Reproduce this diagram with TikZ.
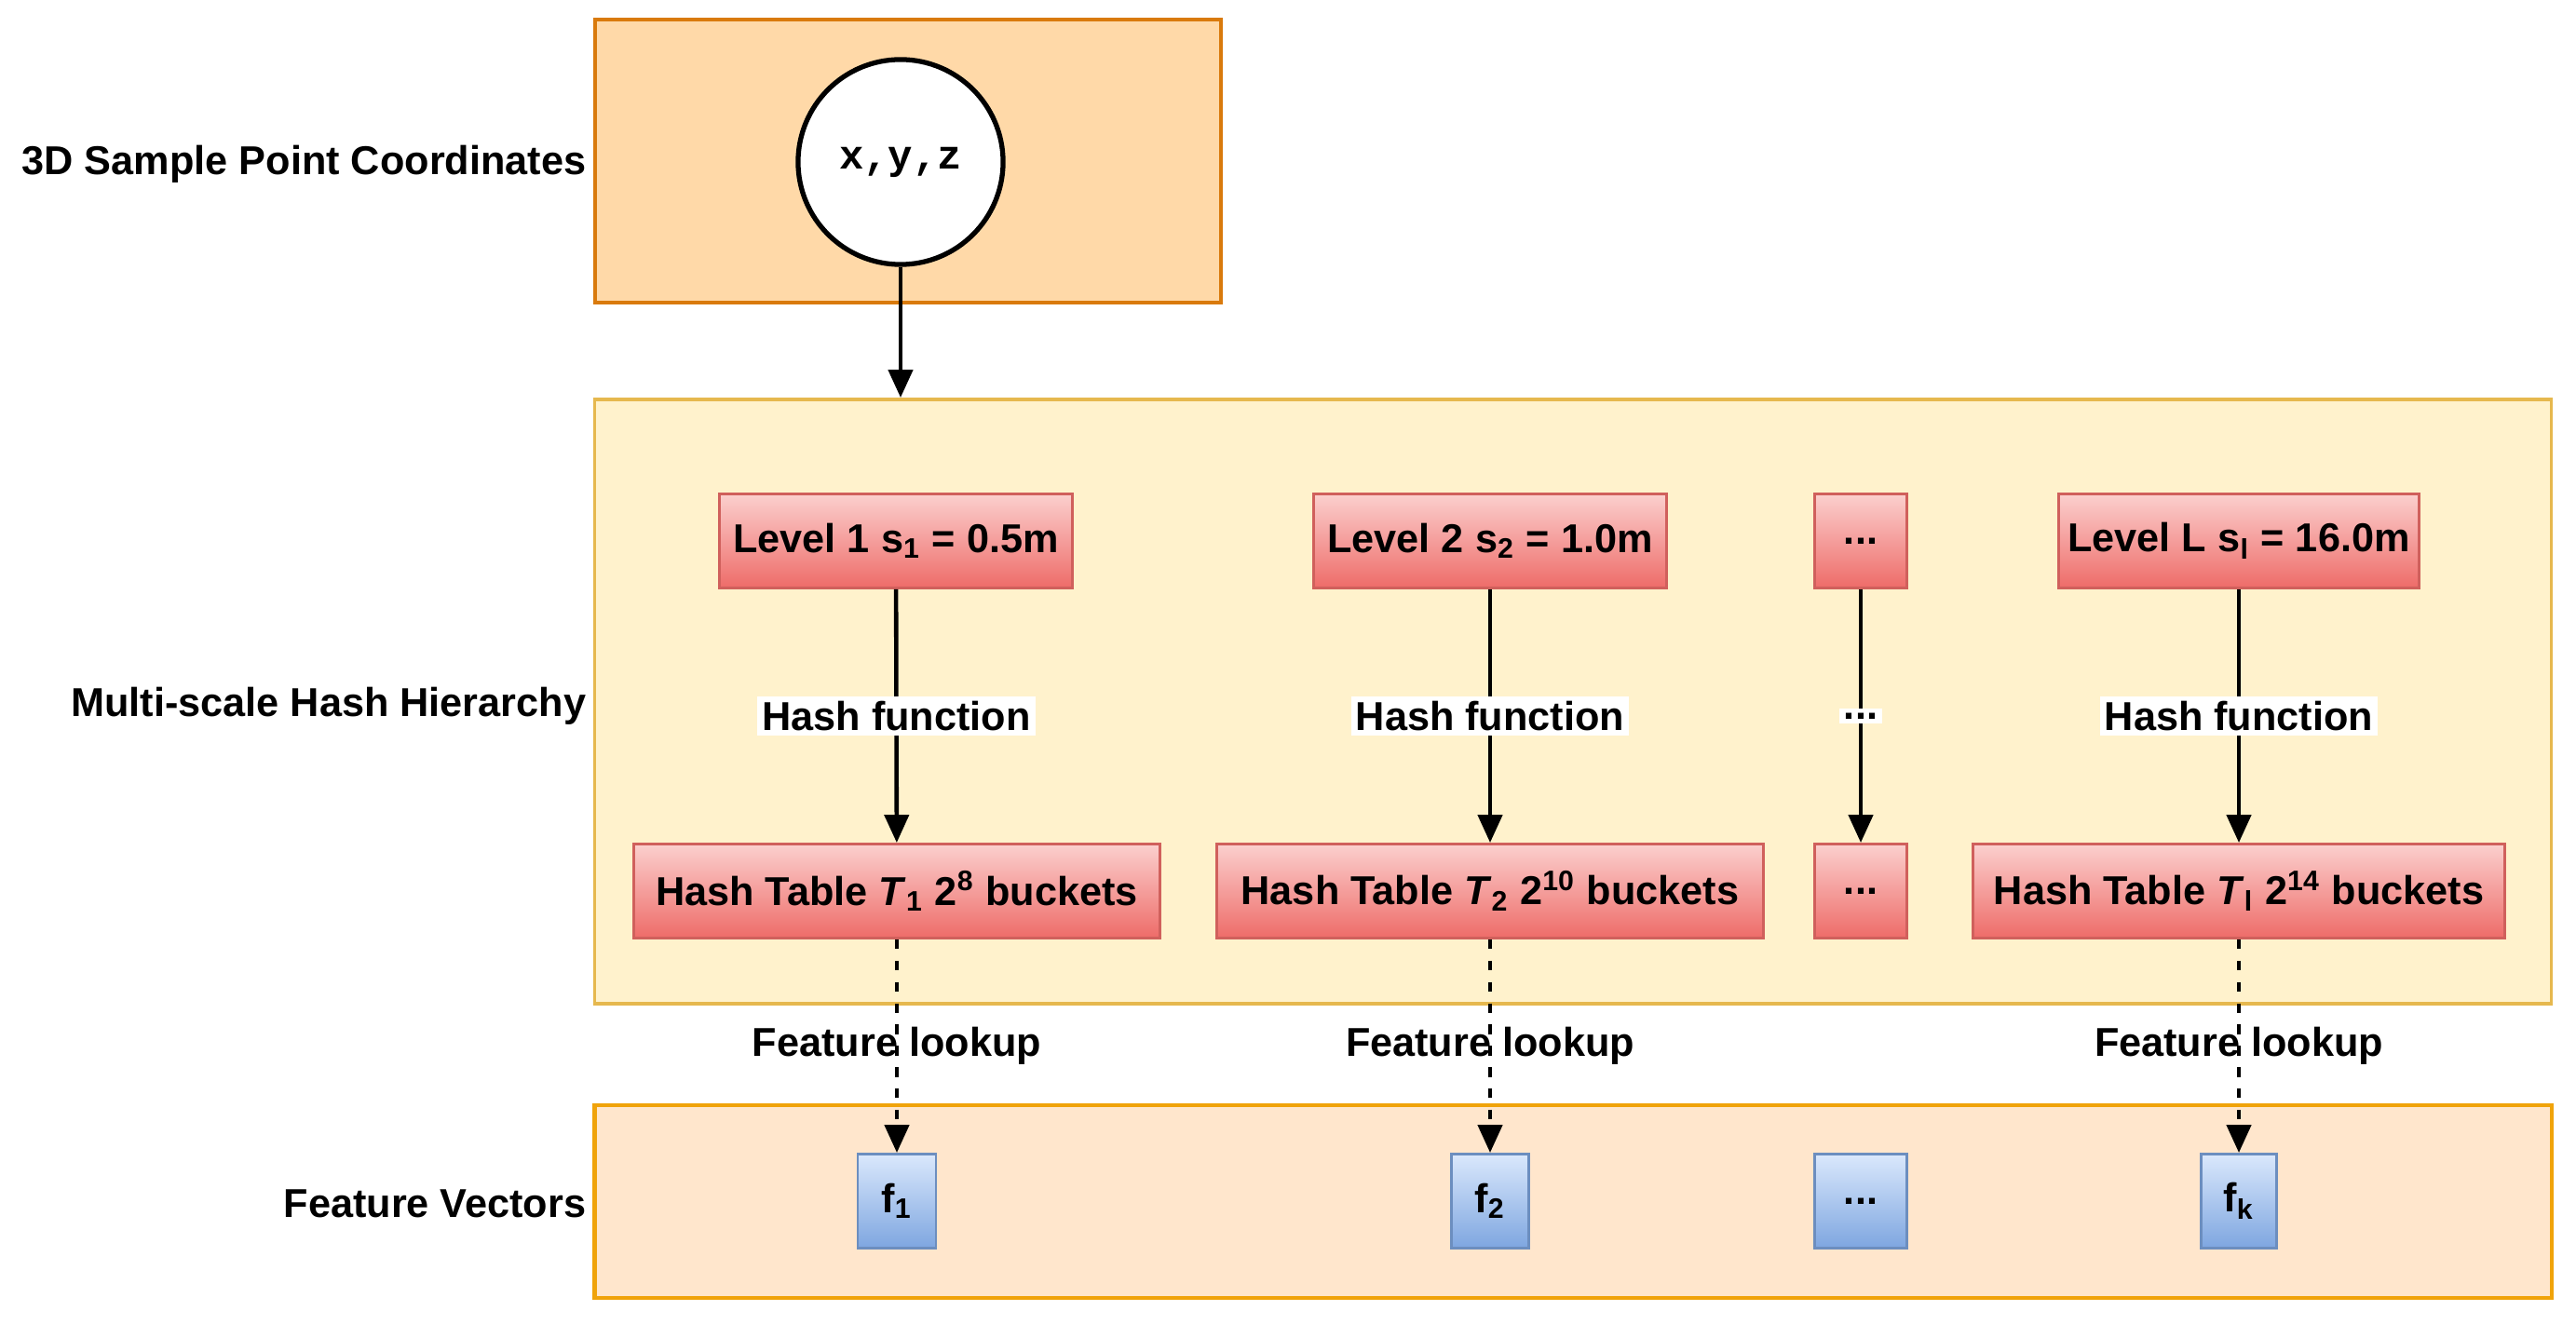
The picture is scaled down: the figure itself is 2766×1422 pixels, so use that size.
\documentclass[tikz,border=0pt]{standalone}
\usepackage{fontspec}
\setmainfont{Liberation Sans}
\setmonofont{Liberation Mono}
\usetikzlibrary{arrows.meta}
\definecolor{HashOrange}{HTML}{FFD9A8}
\definecolor{HashOrangeLine}{HTML}{D97A0C}
\definecolor{HashYellow}{HTML}{FFF2CC}
\definecolor{HashYellowLine}{HTML}{E6B84E}
\definecolor{HashPeach}{HTML}{FFE6CC}
\definecolor{HashPeachLine}{HTML}{F0A30A}
\definecolor{HashRedTop}{HTML}{FBD0CE}
\definecolor{HashRedBottom}{HTML}{EE6B68}
\definecolor{HashRedLine}{HTML}{D0605C}
\definecolor{HashBlueTop}{HTML}{DAE8FC}
\definecolor{HashBlueBottom}{HTML}{7EA6E0}
\definecolor{HashBlueLine}{HTML}{6C8EBF}
\tikzset{
  big/.style={font=\fontsize{12.3}{14}\selectfont\bfseries},
  stage/.style={
    draw,
    line width=1pt,
    inner sep=0pt
  },
  inputstage/.style={stage,fill=HashOrange,draw=HashOrangeLine,line width=1.2pt},
  hashstage/.style={stage,fill=HashYellow,draw=HashYellowLine},
  featstage/.style={stage,fill=HashPeach,draw=HashPeachLine,line width=1.2pt},
  level/.style={
    big,
    draw=HashRedLine,
    line width=.8pt,
    top color=HashRedTop,
    bottom color=HashRedBottom,
    minimum height=1.01cm,
    inner sep=0pt
  },
  feat/.style={
    big,
    draw=HashBlueLine,
    line width=.8pt,
    top color=HashBlueTop,
    bottom color=HashBlueBottom,
    minimum height=1.01cm,
    inner sep=0pt
  },
  rowlabel/.style={big,anchor=east,inner sep=0pt},
  hashlbl/.style={big,fill=white,inner sep=1.5pt},
  lookuplbl/.style={big,inner sep=1pt},
  arrow/.style={-{Triangle[length=3mm,width=2.6mm]},line width=1.3pt},
  lookup/.style={arrow,dash pattern=on 3pt off 3.5pt}
}

\begin{document}
\begin{tikzpicture}[x=0.01cm,y=-0.01cm]
  \useasboundingbox (0,0) rectangle (2766,1422);
  % stages
  \node[inputstage,minimum width=6.72cm,minimum height=3.04cm] (input) at (975,173) {};
  \node[hashstage,minimum width=21cm,minimum height=6.49cm] (hier) at (1689,753.5) {};
  \node[featstage,minimum width=21cm,minimum height=2.07cm] (vectors) at (1689,1290.5) {};
  \node[rowlabel] at (630,176) {3D Sample Point Coordinates};
  \node[rowlabel] at (630,758) {Multi-scale Hash Hierarchy};
  \node[rowlabel] at (630,1293) {Feature Vectors};
  % input point
  \node[circle,draw,line width=1.5pt,fill=white,minimum size=2.2cm,
    font=\fontsize{12.5}{14}\selectfont\ttfamily\bfseries] (xyz) at (967,174) {x,y,z};
  \draw[arrow] (xyz) -- (xyz |- hier.north);
  % levels
  \node[level,minimum width=3.79cm] (lvA) at (962,581) {Level 1 s\textsubscript{1} = 0.5m};
  \node[level,minimum width=3.79cm] (lvB) at (1600,581) {Level 2 s\textsubscript{2} = 1.0m};
  \node[level,minimum width=.99cm] (lvC) at (1998,581) {...};
  \node[level,minimum width=3.87cm] (lvD) at (2404,581) {Level L s\textsubscript{l} = 16.0m};
  % hash tables
  \node[level,minimum width=5.64cm] (tabA) at (963,957) {Hash Table \textit{T}\textsubscript{1} 2\textsuperscript{8} buckets};
  \node[level,minimum width=5.86cm] (tabB) at (1600,957) {Hash Table \textit{T}\textsubscript{2} 2\textsuperscript{10} buckets};
  \node[level,minimum width=.99cm] (tabC) at (1998,957) {...};
  \node[level,minimum width=5.71cm] (tabD) at (2404,957) {Hash Table \textit{T}\textsubscript{l} 2\textsuperscript{14} buckets};
  % feature vectors
  \node[feat,minimum width=.84cm] (fA) at (963,1290) {f\textsubscript{1}};
  \node[feat,minimum width=.83cm] (fB) at (1600,1290) {f\textsubscript{2}};
  \node[feat,minimum width=.99cm] (fC) at (1998,1290) {...};
  \node[feat,minimum width=.81cm] (fD) at (2404,1290) {f\textsubscript{k}};
  % connectors
  \draw[arrow] (lvA) -- node[hashlbl] {Hash function} (tabA);
  \draw[arrow] (lvB) -- node[hashlbl] {Hash function} (tabB);
  \draw[arrow] (lvC) -- node[hashlbl] {...} (tabC);
  \draw[arrow] (lvD) -- node[hashlbl] {Hash function} (tabD);
  \draw[lookup] (tabA) -- node[lookuplbl] {Feature lookup} (fA);
  \draw[lookup] (tabB) -- node[lookuplbl] {Feature lookup} (fB);
  \draw[lookup] (tabD) -- node[lookuplbl] {Feature lookup} (fD);
\end{tikzpicture}
\end{document}
